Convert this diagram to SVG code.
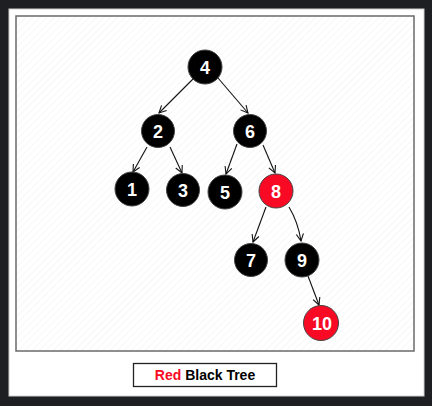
<svg xmlns="http://www.w3.org/2000/svg" width="432" height="406" viewBox="0 0 432 406">
<defs>
<style>
.node circle{stroke:#444;stroke-width:1}
.blk{fill:#000}
.red{fill:#f80a24;stroke:#f7a0aa}
.node text{font-family:"Liberation Sans",Arial,sans-serif;font-weight:bold;font-size:18px;fill:#fff;text-anchor:middle}
.edge{fill:none;stroke:#111;stroke-width:1.1;marker-end:url(#arr)}
</style>
<marker id="arr" viewBox="0 0 10 10" refX="9" refY="5" markerWidth="9" markerHeight="9" markerUnits="userSpaceOnUse" orient="auto">
<path d="M1,1 L9,5 L1,9" fill="none" stroke="#111" stroke-width="1.2"/>
</marker>
<pattern id="hatch" width="5" height="5" patternUnits="userSpaceOnUse" patternTransform="rotate(45)">
<line x1="0" y1="0" x2="0" y2="5" stroke="#f1f1f1" stroke-width="1.2"/>
</pattern>
</defs>
<rect x="0" y="0" width="432" height="406" fill="#1e1f22"/>
<rect id="panel" x="9" y="9" width="415" height="387" fill="#fff" stroke="#d0d0d0" stroke-width="1"/>
<rect id="frame" x="16" y="16" width="398" height="335" fill="url(#hatch)" stroke="#6a6a6a" stroke-width="1.5"/>
<g id="connectors">
<line class="edge" x1="193" y1="79" x2="159" y2="113"/>
<line class="edge" x1="218" y1="78" x2="248" y2="113"/>
<line class="edge" x1="147" y1="147" x2="133" y2="172"/>
<line class="edge" x1="170" y1="147" x2="182" y2="173"/>
<line class="edge" x1="237" y1="144" x2="226" y2="174"/>
<line class="edge" x1="263" y1="145" x2="275" y2="173"/>
<line class="edge" x1="266" y1="207" x2="253" y2="242"/>
<path class="edge" d="M289,207 Q298,222 301,241"/>
<line class="edge" x1="308" y1="276" x2="319" y2="305"/>
</g>
<g id="n4" class="node"><circle class="blk" cx="205" cy="67" r="17"/><text x="205" y="73.5">4</text></g>
<g id="n2" class="node"><circle class="blk" cx="158" cy="131" r="16.5"/><text x="158" y="137.5">2</text></g>
<g id="n6" class="node"><circle class="blk" cx="250" cy="131" r="16.5"/><text x="250" y="137.5">6</text></g>
<g id="n1" class="node"><circle class="blk" cx="132" cy="189" r="17"/><text x="132" y="195.5">1</text></g>
<g id="n3" class="node"><circle class="blk" cx="183" cy="190" r="16.5"/><text x="183" y="196.5">3</text></g>
<g id="n5" class="node"><circle class="blk" cx="225" cy="192" r="17"/><text x="225" y="198.5">5</text></g>
<g id="n8" class="node"><circle class="red" cx="276" cy="191" r="17"/><text x="276" y="197.5">8</text></g>
<g id="n7" class="node"><circle class="blk" cx="251" cy="260" r="16.5"/><text x="251" y="266.5">7</text></g>
<g id="n9" class="node"><circle class="blk" cx="302" cy="260" r="17"/><text x="302" y="266.5">9</text></g>
<g id="n10" class="node"><circle class="red" cx="321" cy="323" r="17.5"/><text x="322" y="329.5">10</text></g>
<g id="label">
<rect x="133.5" y="363.5" width="143" height="23" fill="#fff" stroke="#222" stroke-width="1.3"/>
<text x="205" y="380" font-family="'Liberation Sans',Arial,sans-serif" font-weight="bold" font-size="14" text-anchor="middle"><tspan fill="#f80a24">Red</tspan><tspan fill="#000"> Black Tree</tspan></text>
</g>
</svg>
